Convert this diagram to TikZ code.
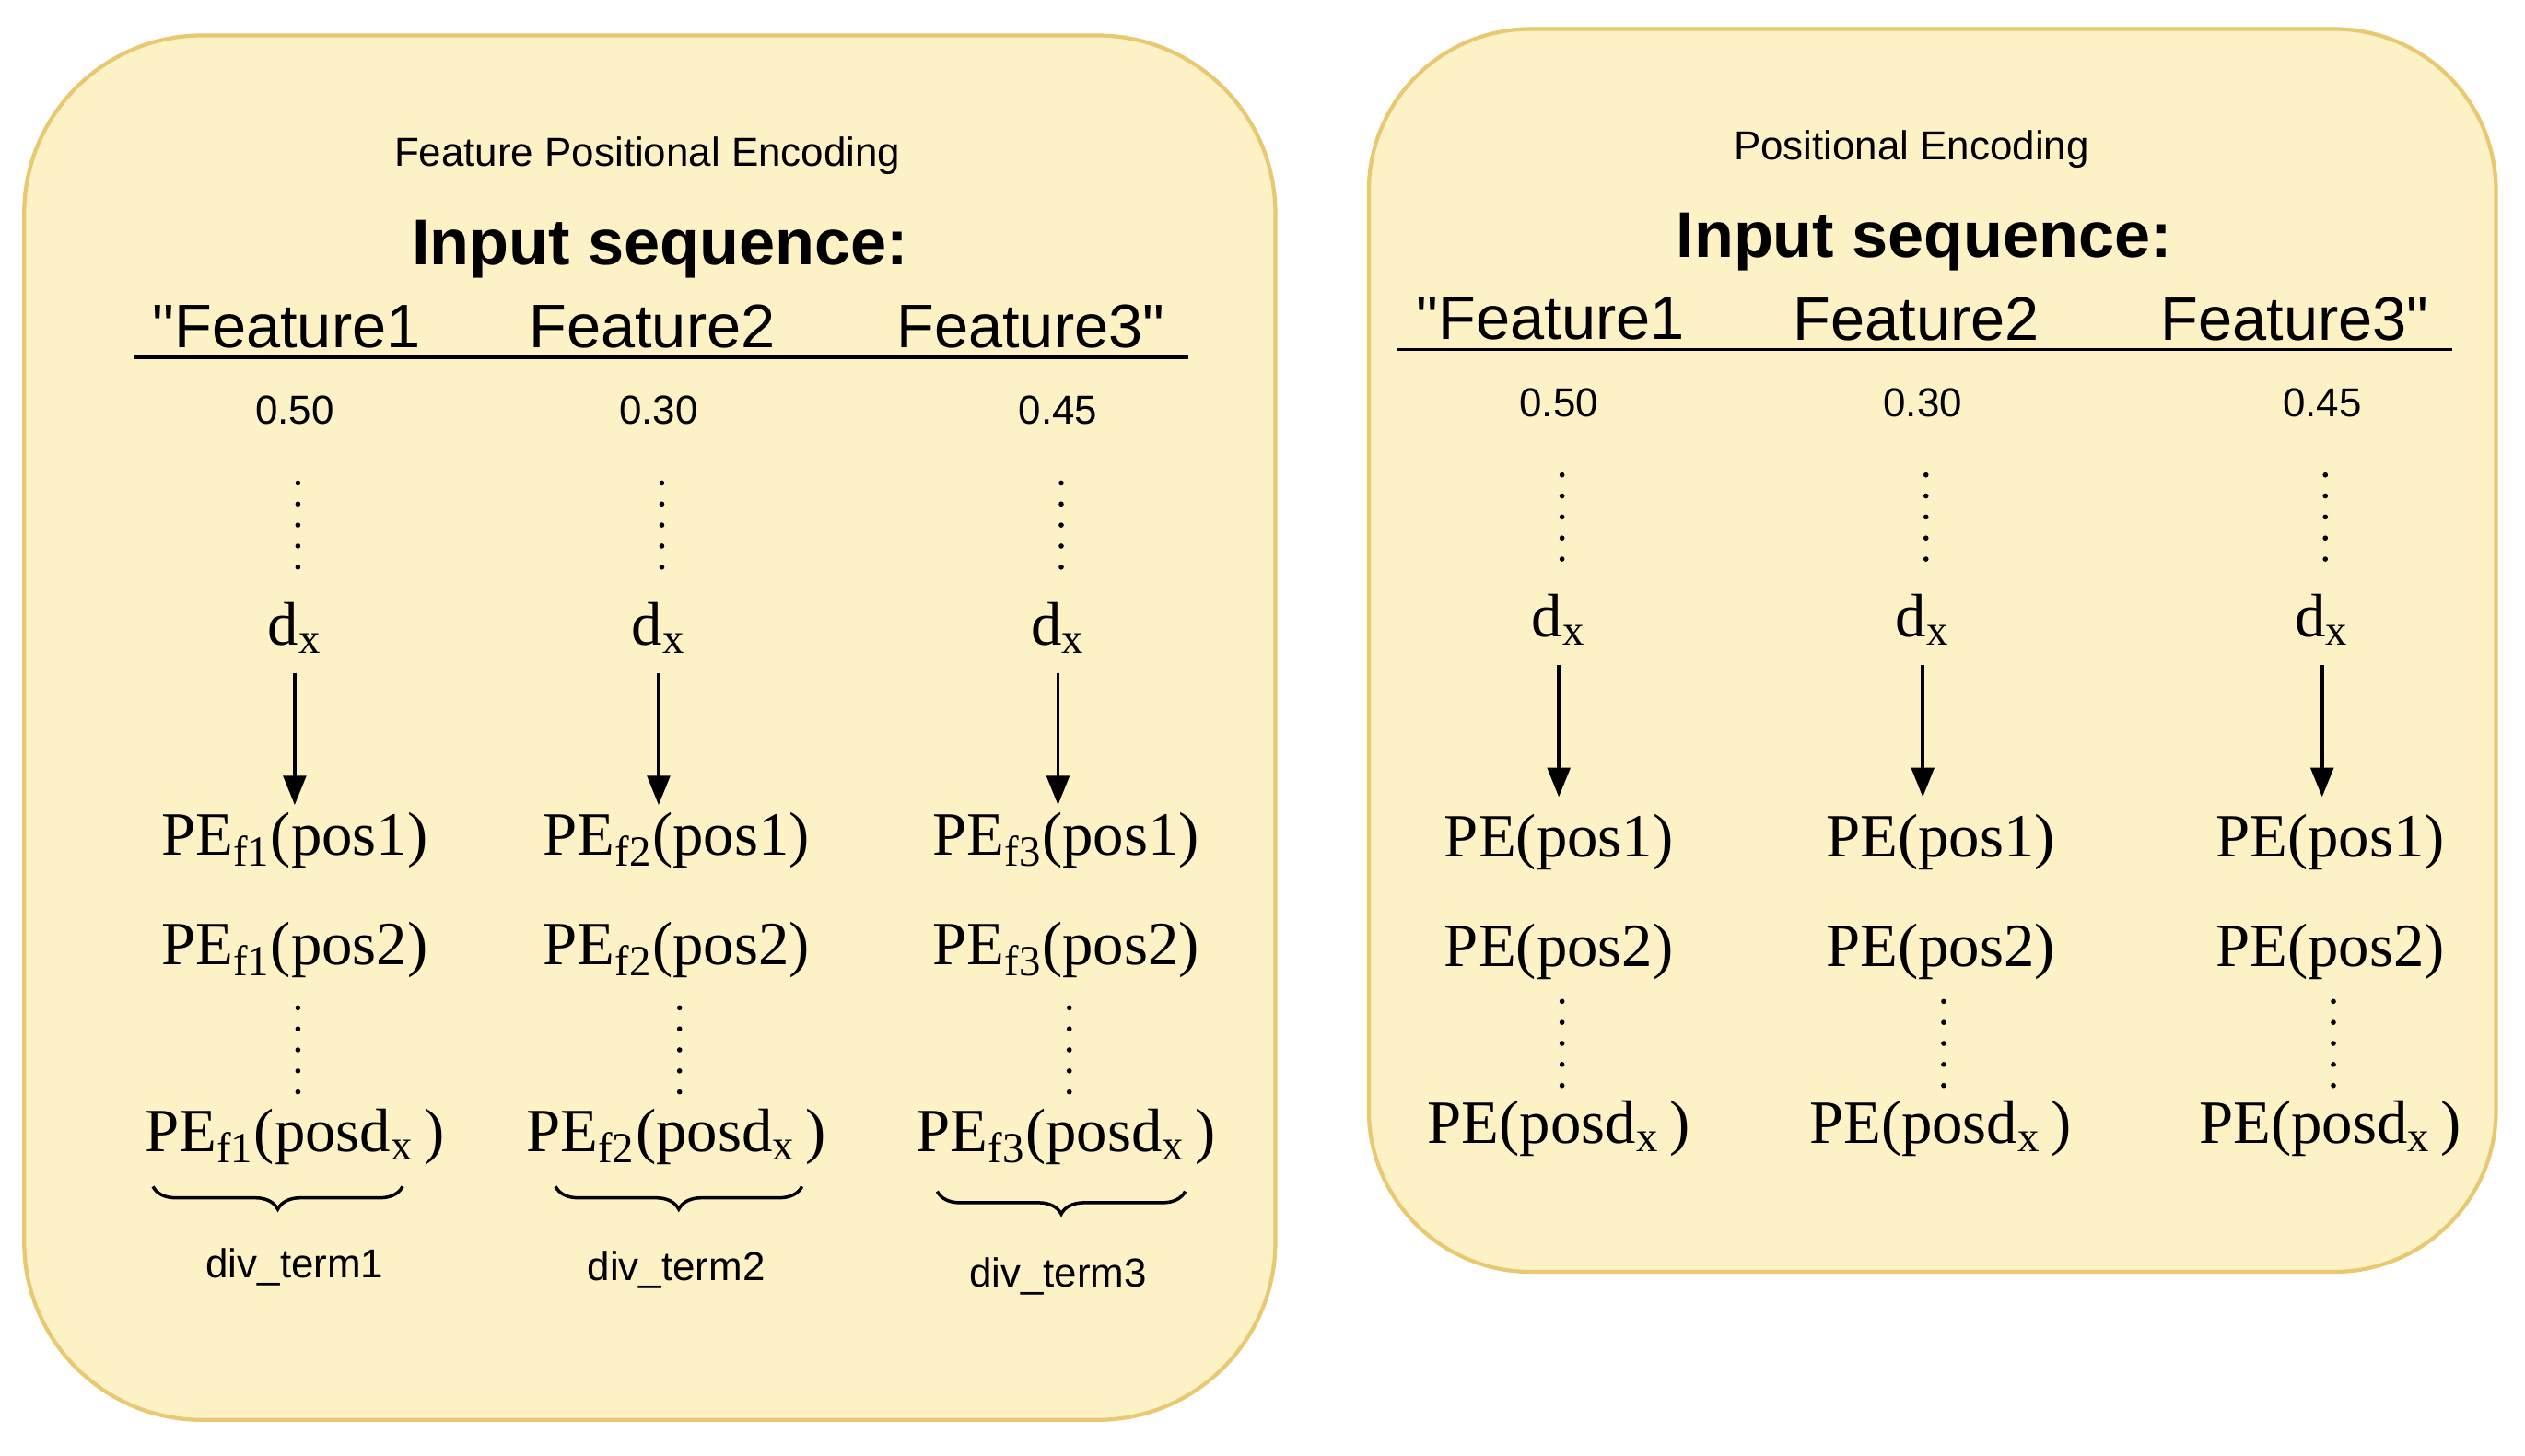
\documentclass[tikz,border=0pt]{standalone}
\usepackage{fontspec}
\setmainfont{Liberation Serif}
\newfontfamily\sans{Liberation Sans}
\usetikzlibrary{arrows.meta,decorations.pathreplacing}
\definecolor{boxfill}{HTML}{FDF1C6}
\definecolor{boxdraw}{HTML}{E9C872}
\begin{document}
\begin{tikzpicture}[x=0.01748cm,y=-0.01748cm,
  panel/.style={draw=boxdraw,fill=boxfill,line width=1.2pt},
  title/.style={font=\sans\fontsize{12.5}{14}\selectfont},
  head/.style={font=\sans\bfseries\fontsize{20}{24}\selectfont},
  feat/.style={font=\sans\fontsize{19}{22}\selectfont},
  val/.style={font=\sans\fontsize{12.5}{14}\selectfont},
  dx/.style={font=\fontsize{19}{22}\selectfont},
  pe/.style={font=\fontsize{19}{22}\selectfont},
  div/.style={font=\sans\fontsize{12.5}{14}\selectfont},
  vdots/.style={dotted,line width=1.6pt,dash pattern=on 0pt off 6.5pt,line cap=round},
  arr/.style={-{Triangle[length=9pt,width=7pt]},line width=1pt},
  br/.style={decorate,decoration={brace,mirror,amplitude=7pt},line width=1pt}]
\useasboundingbox (0,0) rectangle (1568,904);
\draw[panel,rounded corners=55pt] (15,22) rectangle (792,882);
\draw[panel,rounded corners=50pt] (850,18) rectangle (1550,790);
% left panel
\node[title] (t1) at (402,97) {Feature Positional Encoding};
\node[head] (h1) at (410,155) {Input sequence:};
\node[feat] (f11) at (178,203) {"Feature1};
\node[feat] (f12) at (405,203) {Feature2};
\node[feat] (f13) at (640,203) {Feature3"};
\coordinate (l1a) at (83,222); \coordinate (l1b) at (738,222);
\draw[line width=1pt] (l1a) -- (l1b);
\foreach \x/\v/\i/\px/\sub in {183/0.50/1/183/f1,409/0.30/2/420/f2,657/0.45/3/662/f3}{
  \node[val] (v1\i) at (\x,255) {\v};
  \coordinate (da1\i) at (\x+2,300); \coordinate (db1\i) at (\x+2,358);
  \draw[vdots] (da1\i) -- (db1\i);
  \node[dx] (d1\i) at (\x,390) {d\textsubscript{x}};
  \coordinate (aa1\i) at (\x,418); \coordinate (ab1\i) at (\x,500);
  \draw[arr] (aa1\i) -- (ab1\i);
  \node[pe] (p1\i) at (\px-\i*0+0,522) {PE\textsubscript{\sub}(pos1)};
  \node[pe] (q1\i) at (\px,590) {PE\textsubscript{\sub}(pos2)};
  \coordinate (ea1\i) at (\px+2,626); \coordinate (eb1\i) at (\px+2,680);
  \draw[vdots] (ea1\i) -- (eb1\i);
  \node[pe] (r1\i) at (\px-\i*0,706) {PE\textsubscript{\sub}(posd\textsubscript{x}\,)};
}
\coordinate (b1a) at (95,737); \coordinate (b1b) at (250,737);
\draw[br] (b1a) -- (b1b);
\node[div] (dt1) at (183,787) {div\_term1};
\coordinate (b2a) at (345,737); \coordinate (b2b) at (498,737);
\draw[br] (b2a) -- (b2b);
\node[div] (dt2) at (420,789) {div\_term2};
\coordinate (b3a) at (582,740); \coordinate (b3b) at (736,740);
\draw[br] (b3a) -- (b3b);
\node[div] (dt3) at (657,793) {div\_term3};
% right panel
\node[title] (t2) at (1187,93) {Positional Encoding};
\node[head] (h2) at (1195,150) {Input sequence:};
\node[feat] (f21) at (963,198) {"Feature1};
\node[feat] (f22) at (1190,198) {Feature2};
\node[feat] (f23) at (1425,198) {Feature3"};
\coordinate (l2a) at (868,217); \coordinate (l2b) at (1523,217);
\draw[line width=1pt] (l2a) -- (l2b);
\foreach \x/\v/\i/\px in {968/0.50/1/968,1194/0.30/2/1205,1442/0.45/3/1447}{
  \node[val] (v2\i) at (\x,250) {\v};
  \coordinate (da2\i) at (\x+2,295); \coordinate (db2\i) at (\x+2,353);
  \draw[vdots] (da2\i) -- (db2\i);
  \node[dx] (d2\i) at (\x,385) {d\textsubscript{x}};
  \coordinate (aa2\i) at (\x,413); \coordinate (ab2\i) at (\x,495);
  \draw[arr] (aa2\i) -- (ab2\i);
  \node[pe] (p2\i) at (\px,523) {PE(pos1)};
  \node[pe] (q2\i) at (\px,591) {PE(pos2)};
  \coordinate (ea2\i) at (\px+2,622); \coordinate (eb2\i) at (\px+2,680);
  \draw[vdots] (ea2\i) -- (eb2\i);
  \node[pe] (r2\i) at (\px,701) {PE(posd\textsubscript{x}\,)};
}
\end{tikzpicture}
\end{document}
